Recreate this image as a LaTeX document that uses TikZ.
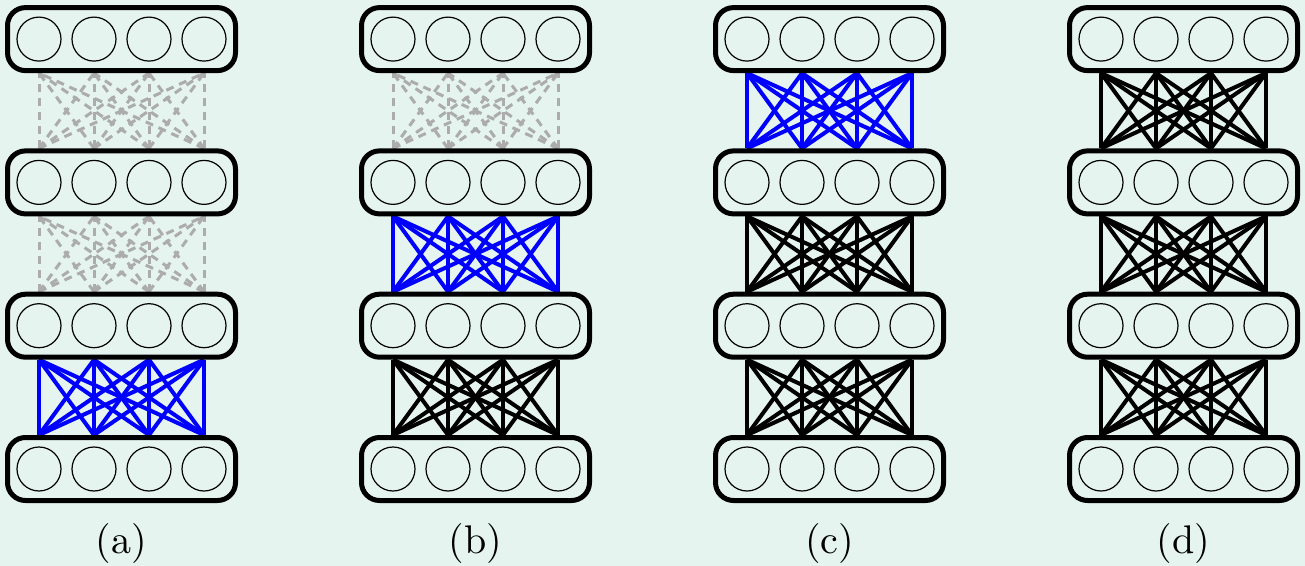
\documentclass[tikz,border=0pt]{standalone}
\usepackage{tikz}
\definecolor{bgmint}{RGB}{229,244,239}
\definecolor{linkblue}{RGB}{0,0,255}
\definecolor{linkgray}{RGB}{172,172,172}
\pgfdeclarelayer{bg}
\pgfdeclarelayer{links}
\pgfsetlayers{bg,links,main}

\begin{document}
\begin{tikzpicture}[x=0.25pt,y=-0.25pt,line cap=round,line join=round,font=\normalsize,
    layerbox/.style={draw,fill=bgmint,line width=1.25pt,rounded corners=4.5pt,
      minimum width=57pt,minimum height=15.75pt,inner sep=0pt},
    neuron/.style={draw,circle,line width=0.3pt,minimum size=11pt,inner sep=0pt},
    trained/.style={black,line width=1pt},
    training/.style={linkblue,line width=1pt},
    untrained/.style={linkgray,line width=0.75pt,dash pattern=on 2pt off 1.5pt,line cap=butt}]
    \useasboundingbox (0,0) rectangle (1305,566);
    \begin{pgfonlayer}{bg}
      \fill[bgmint] (0,0) rectangle (1305,566);
    \end{pgfonlayer}
    % four stacks, layers counted from the bottom
    \foreach \col/\lab [count=\c] in {0/a,354/b,708/c,1062/d} {
      \foreach \l in {1,...,4} {
        \node[layerbox] (\lab\l) at (121.5+\col,469-143.3*\l+143.3) {};
        \foreach \n in {1,...,4}
          \node[neuron] (\lab-\l-\n) at (39+\col+55*\n-55,469-143.3*\l+143.3) {};
      }
      \node (lab-\lab) at (121.5+\col,543) {(\lab)};
      % links between neighbouring layers
      \begin{pgfonlayer}{links}
        \foreach \g in {1,2,3} {
          \pgfmathtruncatemacro\h{\g+1}
          \ifnum\g<\c \def\kind{trained}\else\ifnum\g=\c \def\kind{training}\else\def\kind{untrained}\fi\fi
          \foreach \i in {1,...,4}
            \foreach \j in {1,...,4}
              \draw[\kind] (\lab-\g-\i |- \lab\g.north) -- (\lab-\h-\j |- \lab\h.south);
        }
      \end{pgfonlayer}
    }
  \end{tikzpicture}
\end{document}
